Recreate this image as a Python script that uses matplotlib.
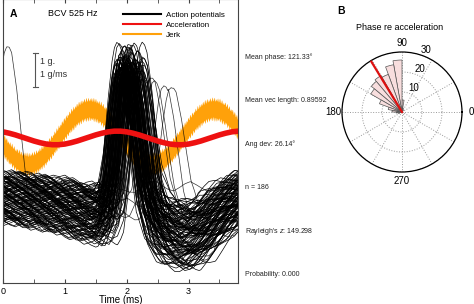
# Phase locking of action potentials to BCV stimulus, panel A traces + panel B rose
import numpy as np
import matplotlib
matplotlib.use("Agg")
import matplotlib.pyplot as plt
from matplotlib.lines import Line2D

plt.rcParams['font.family'] = ['Liberation Sans', 'DejaVu Sans']
plt.rcParams['mathtext.fontset'] = 'custom'
plt.rcParams['mathtext.it'] = 'Liberation Sans:italic'
plt.rcParams['mathtext.rm'] = 'Liberation Sans'

# ---- data ----
# stimulus, sampled every 0.1 ms (acceleration in g, jerk in g/ms)
t_stim = np.round(np.arange(0, 3.81, 0.1), 2)
accel = [0.18, 0.14, 0.09, 0.03, -0.03, -0.09, -0.14, -0.18, -0.20, -0.20,
         -0.18, -0.14, -0.09, -0.03, 0.03, 0.09, 0.14, 0.18, 0.20, 0.20,
         0.18, 0.14, 0.09, 0.03, -0.03, -0.09, -0.14, -0.18, -0.20, -0.20,
         -0.18, -0.14, -0.09, -0.03, 0.03, 0.09, 0.14, 0.18, 0.20]
jerk = [-0.21, -0.44, -0.62, -0.74, -0.78, -0.74, -0.62, -0.44, -0.21, 0.04,
        0.29, 0.52, 0.70, 0.82, 0.86, 0.82, 0.70, 0.52, 0.29, 0.04,
        -0.21, -0.44, -0.62, -0.74, -0.78, -0.74, -0.62, -0.44, -0.21, 0.04,
        0.29, 0.52, 0.70, 0.82, 0.86, 0.82, 0.70, 0.52, 0.29]
jerk_noise = 0.29

# action potential waveform relative to its peak time
ap_dt = [-2.8, -2.2, -1.6, -1.0, -0.6, -0.4, -0.3, -0.22, -0.15, -0.08, -0.04,
         0.0, 0.04, 0.08, 0.16, 0.24, 0.32, 0.45, 0.6, 0.8, 1.0, 1.2, 1.4,
         1.6, 1.8, 2.2, 3.8]
ap_v = [-1.66, -1.69, -1.81, -2.01, -2.22, -2.28, -1.96, -0.93, 0.54, 1.72, 2.12,
        2.25, 2.20, 2.01, 0.99, -0.34, -1.51, -2.34, -2.69, -2.87, -2.90, -2.69,
        -2.34, -1.99, -1.75, -1.51, -1.60]
ap_base = -1.8

# spike peak times (ms), baseline offsets and peak levels of the traces
peak_times = [1.84, 1.88, 1.91, 1.94, 1.97, 2.0, 2.02, 2.05, 2.08, 2.12, 2.17, 2.25]
offsets = [-0.7, -0.52, -0.36, -0.2, -0.06, 0.08, 0.22, 0.36, 0.5, 0.66]
peak_levels = [1.75, 2.2, 1.95, 2.45, 2.05, 2.3, 1.85, 2.7, 2.1]
wiggle = [0.00, 0.08, 0.13, 0.05, -0.07, -0.14, -0.06, 0.04, 0.12, 0.10, -0.02, -0.11,
          -0.15, -0.05, 0.07, 0.14, 0.06, -0.04, -0.12, -0.09, 0.03, 0.11, 0.04, -0.06]
# odd traces: (peak time, offset, peak level)
extra_traces = [(0.06, 0.1, 2.75), (2.38, 0.3, 1.9), (2.45, 0.0, 1.75),
                (2.6, -0.1, 1.6), (2.72, 0.2, 1.62)]

# rose histogram of spike phase re acceleration (10 deg bins)
bin_centres = [55, 65, 75, 85, 95, 105, 115, 125, 135, 145, 155, 165, 175, 185, 195]
bin_counts = [1, 1, 2, 6, 26, 24, 20, 21, 20, 18, 12, 7, 5, 3, 2]
mean_phase = 121.33

stats = ["Mean phase: 121.33\u00b0", "Mean vec length: 0.89592", "Ang dev: 26.14\u00b0",
         "n = 186", "Rayleigh's $z$: 149.298", "Probability: 0.000"]

W, H = 474, 304
fig = plt.figure(figsize=(W / 100, H / 100), dpi=100)

# ---- panel A ----
ax = fig.add_axes([3 / W, 21 / H, 235 / W, 284 / H])
t = np.linspace(0, 3.8, 600)
wt = np.arange(len(wiggle)) * 0.09
period = len(wiggle) * 0.09
ap_peak = max(ap_v)


def trace(tp, off, peak, k):
    v = np.interp(t - tp, ap_dt, ap_v)
    sc = (peak - ap_base - off) / (ap_peak - ap_base)
    v = ap_base + off + sc * (v - ap_base)
    return v + np.interp((t + 0.13 * k) % period, wt, wiggle)


k = 0
for i, tp in enumerate(peak_times):
    for j, off in enumerate(offsets):
        pk = peak_levels[(i + 2 * j) % len(peak_levels)]
        ax.plot(t, trace(tp, off, pk, k), color='k', lw=0.5)
        k += 1
for tp, off, pk in extra_traces:
    ax.plot(t, trace(tp, off, pk, k), color='k', lw=0.5, alpha=0.8)
    k += 3

# jerk band with ragged edges
jk = np.interp(t, t_stim, jerk)
fast = (t % 0.12) / 0.12 * period
edge = np.interp(fast, wt, wiggle) * 0.5
ax.fill_between(t, jk - jerk_noise + edge, jk + jerk_noise - edge[::-1],
                color='#ffa10a', lw=0)
ax.plot(t_stim, accel, color='#ee1111', lw=4)

ax.set_xlim(0, 3.8)
ax.set_ylim(-4.28, 4.1)
ax.set_xticks([0, 1, 2, 3])
ax.set_xticks(np.arange(0, 3.81, 0.5), minor=True)
ax.set_yticks([])
ax.tick_params(axis='x', which='both', direction='in', top=True, length=3,
               labelsize=6.5, pad=3, color='#444')
for s in ax.spines.values():
    s.set_color('#444')
    s.set_linewidth(0.8)
ax.set_xlabel("Time (ms)", fontsize=7, labelpad=-1)

# scale bar 1 g / 1 g/ms
ax.plot([0.52, 0.52], [1.51, 2.51], color='#555', lw=0.8)
ax.plot([0.48, 0.56], [2.51, 2.51], color='#555', lw=0.8)
ax.plot([0.48, 0.56], [1.51, 1.51], color='#555', lw=0.8)
ax.text(0.6, 2.25, "1 g.", fontsize=6.5, va='center', color='#333')
ax.text(0.6, 1.88, "1 g/ms", fontsize=6.5, va='center', color='#333')

handles = [Line2D([], [], color='k', lw=1.5), Line2D([], [], color='#ee1111', lw=1.5),
           Line2D([], [], color='#ffa10a', lw=1.5)]
ax.legend(handles, ["Action potentials", "Acceleration", "Jerk"], loc='upper left',
          bbox_to_anchor=(0.495, 0.967), frameon=False, fontsize=5.8,
          handlelength=4.8, handletextpad=0.6, labelspacing=0.25, borderaxespad=0)

fig.text(10 / W, 1 - 14 / H, "A", fontsize=7.5, fontweight='bold', va='center')
fig.text(48 / W, 1 - 13 / H, "BCV 525 Hz", fontsize=6.5, va='center')

for n, s in enumerate(stats):
    fig.text(245 / W, 1 - (57 + 43.6 * n) / H, s, fontsize=5, va='center', color='#222')

# ---- panel B ----
pax = fig.add_axes([342 / W, 1 - 172 / H, 120 / W, 120 / H], projection='polar')
pax.bar(np.deg2rad(bin_centres), bin_counts, width=np.deg2rad(10), bottom=0,
        facecolor='#f8dede', edgecolor='#555', lw=0.5, zorder=2)
pax.plot([0, np.deg2rad(mean_phase)], [0, 30], color='#dd1111', lw=1.6, zorder=3)
pax.set_ylim(0, 30)
pax.set_thetagrids(range(0, 360, 30),
                   ['0', '', '', '90', '', '', '180', '', '', '270', '', ''])
pax.set_rgrids([10, 20, 30], angle=72)
pax.tick_params(axis='x', labelsize=7, pad=-4)
pax.tick_params(axis='y', labelsize=7)
pax.grid(True, color='#999', ls=':', lw=0.7)
pax.spines['polar'].set_color('k')
pax.spines['polar'].set_linewidth(0.9)

fig.text(400 / W, 1 - 27 / H, "Phase re acceleration", fontsize=6.5, ha='center', va='center')
fig.text(337 / W, 1 - 11 / H, "B", fontsize=7.5, fontweight='bold', va='center')

fig.savefig("out.png", dpi=100)
